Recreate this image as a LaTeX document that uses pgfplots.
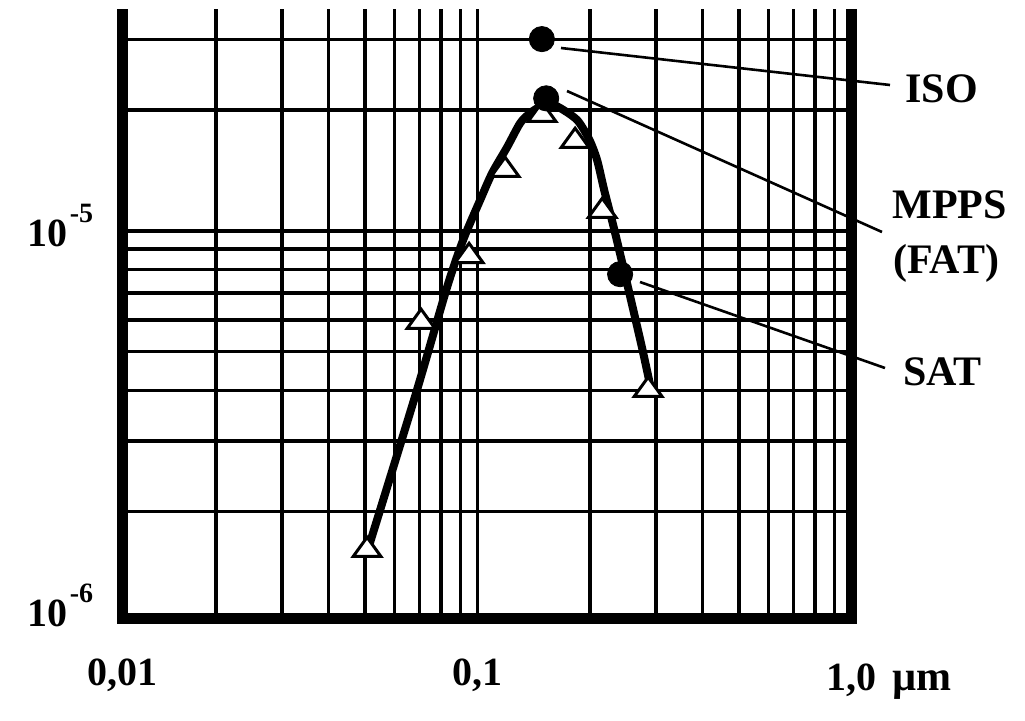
\documentclass[border=0pt]{standalone}
\usepackage{fontspec}
\setmainfont{Liberation Serif}
\usepackage{pgfplots}
\pgfplotsset{compat=1.18}
\newcommand{\sexp}[1]{\hspace{1pt}\raisebox{12pt}{\fontsize{14}{14}\selectfont\bfseries #1}}
\begin{document}
\begin{tikzpicture}
\begin{axis}[
  at={(61.25pt,51pt)}, anchor=south west,
  scale only axis, width=364.5pt, height=304.5pt,
  xmode=log, ymode=log,
  xmin=0.01125, xmax=1, ymin=1.0855e-6, ymax=3.568e-5,
  axis line style={draw=none},
  xtick={0.01126,0.1,0.9999},
  xticklabels={{0,01},{0,1},{\raisebox{-2.5pt}{1,0\rlap{\hspace{8pt}\fontsize{21}{24}\selectfont µm}}}},
  minor xtick={0.02,0.03,0.04,0.05,0.06,0.07,0.08,0.09,0.2,0.3,0.4,0.5,0.6,0.7,0.8,0.9},
  ytick={1.086e-6,1e-5},
  yticklabels={{\raisebox{-4.5pt}{10\sexp{-6}}},{\raisebox{-8pt}{10\sexp{-5}}}},
  minor ytick={2e-6,3e-6,4e-6,5e-6,6e-6,7e-6,8e-6,9e-6,2e-5,3e-5},
  grid=both,
  major grid style={black, line width=1.75pt},
  minor grid style={black, line width=1.75pt},
  major tick length=0pt, minor tick length=0pt,
  tick style={draw=none},
  xticklabel style={anchor=base, inner sep=0pt, yshift=-33.5pt, font=\fontsize{20}{24}\selectfont\bfseries},
  yticklabel style={anchor=base east, inner sep=0pt, xshift=-14.5pt, font=\fontsize{20}{24}\selectfont\bfseries},
]
% test points (open triangles)
\addplot[only marks, mark=triangle*, mark size=8pt,
  mark options={fill=white, draw=black, line width=1.5pt, yscale=0.8}] coordinates {
  (0.0507,1.603e-6) (0.0707,5.93e-6) (0.0950,8.65e-6) (0.1186,1.417e-5)
  (0.1489,1.943e-5) (0.1825,1.674e-5) (0.2156,1.12e-5) (0.2860,4.014e-6)
};
% fitted curve
\addplot[black, line width=4pt, line join=round, line cap=round, smooth, tension=0.45, no marks] coordinates {
  (0.0513,1.641e-6) (0.06855,3.945e-6) (0.08298,7.244e-6) (0.09158,9.487e-6)
  (0.1017,1.193e-5) (0.1095,1.393e-5) (0.1201,1.617e-5) (0.1301,1.855e-5)
  (0.1383,1.965e-5) (0.1481,2.046e-5) (0.1565,2.07e-5) (0.1664,2.023e-5)
  (0.1848,1.888e-5) (0.1990,1.690e-5) (0.2089,1.501e-5) (0.2182,1.264e-5)
  (0.2306,1.034e-5) (0.2436,8.36e-6) (0.2592,6.535e-6) (0.2756,5.105e-6)
  (0.2896,4.128e-6)
};
% ISO, MPPS (FAT), SAT
\addplot[only marks, mark=*, mark size=6.3pt, black] coordinates {
  (0.1487,3.003e-5) (0.1527,2.138e-5) (0.2407,7.80e-6)
};
\end{axis}
% frame: left, bottom, right (open top)
\draw[line width=5.5pt, line join=miter] (61.25pt,355.5pt) -- (61.25pt,51pt) -- (425.75pt,51pt) -- (425.75pt,355.5pt);
% leader lines
\draw[line width=1.3pt] (280.5pt,336pt) -- (445pt,317.5pt);
\draw[line width=1.3pt] (283.5pt,314.5pt) -- (441pt,244pt);
\draw[line width=1.3pt] (320pt,219pt) -- (442.5pt,176pt);
\begin{scope}[every node/.style={anchor=base west, inner sep=0pt, font=\fontsize{21}{25}\selectfont\bfseries}]
\node at (452.5pt,309pt) {ISO};
\node at (446pt,251pt) {MPPS};
\node at (446.5pt,223.5pt) {(FAT)};
\node at (451.5pt,167.5pt) {SAT};
\end{scope}
\pgfresetboundingbox
\useasboundingbox (0,0) rectangle (512.5pt,360pt);
\end{tikzpicture}
\end{document}
